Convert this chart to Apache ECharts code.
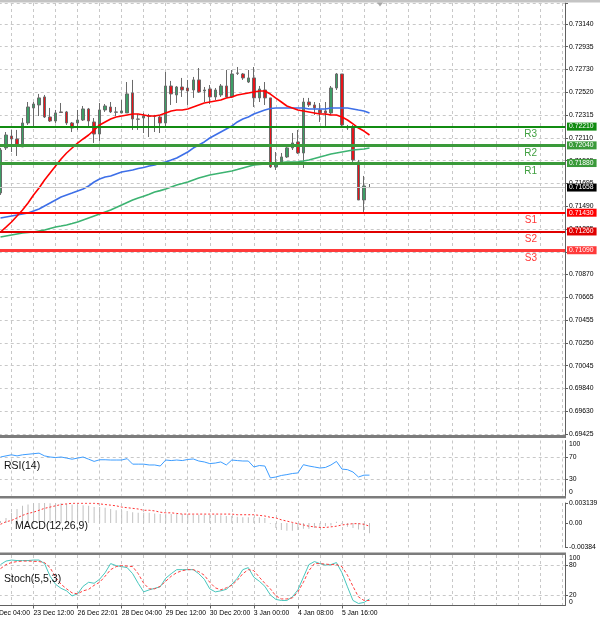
<!DOCTYPE html>
<html><head><meta charset="utf-8">
<script src="https://cdn.jsdelivr.net/npm/echarts@6/dist/echarts.min.js"></script>
<style>html,body{margin:0;padding:0;background:#fff}#c{width:600px;height:621px}</style>
</head><body><div id="c"></div>
<script>
// ---------- data ----------
const timeTicks = ['22 Dec 04:00','23 Dec 12:00','26 Dec 22:01','28 Dec 04:00','29 Dec 12:00','30 Dec 20:00','3 Jan 00:00','4 Jan 08:00','5 Jan 16:00'];
const priceTicks = ['0.69425','0.69630','0.69840','0.70045','0.70250','0.70455','0.70665','0.70870','0.71080','0.71285','0.71490','0.71695','0.71905','0.72110','0.72315','0.72520','0.72730','0.72935','0.73140'];

const open = [0.71609,0.72017,0.72125,0.72098,0.72026,0.72243,0.72379,0.72406,0.72479,0.72297,
0.72261,0.72343,0.72343,0.72243,0.72243,0.72270,0.72370,0.72252,0.72143,0.72361,
0.72388,0.72343,0.72334,0.72334,0.72515,0.72279,0.72288,0.72306,0.72306,0.72297,
0.72243,0.72578,0.72497,0.72569,0.72560,0.72542,0.72633,0.72533,0.72551,0.72479,
0.72497,0.72578,0.72479,0.72696,0.72687,0.72614,0.72651,0.72470,0.72542,0.72470,
0.71844,0.71890,0.71935,0.72017,0.72071,0.71971,0.72433,0.72406,0.72361,0.72352,
0.72334,0.72560,0.72687,0.72207,0.72198,0.71890,0.71545,0.71658];
const close = [0.71998,0.72134,0.72098,0.72035,0.72243,0.72388,0.72415,0.72470,0.72297,0.72261,
0.72334,0.72338,0.72243,0.72198,0.72270,0.72370,0.72261,0.72143,0.72361,0.72397,
0.72343,0.72340,0.72352,0.72506,0.72279,0.72277,0.72306,0.72304,0.72304,0.72243,
0.72578,0.72506,0.72569,0.72542,0.72533,0.72633,0.72524,0.72542,0.72479,0.72542,
0.72578,0.72479,0.72687,0.72693,0.72651,0.72651,0.72470,0.72551,0.72470,0.71844,
0.71881,0.71935,0.72017,0.72062,0.71971,0.72433,0.72406,0.72379,0.72334,0.72334,
0.72560,0.72687,0.72225,0.72198,0.71908,0.71545,0.71672,0.71658];
const low = [0.71591,0.71998,0.71980,0.71944,0.72026,0.72225,0.72198,0.72306,0.72288,0.72252,
0.72243,0.72334,0.72225,0.72161,0.72180,0.72261,0.72207,0.72062,0.72080,0.72343,
0.72334,0.72306,0.72334,0.72334,0.72180,0.72180,0.72152,0.72116,0.72161,0.72152,
0.72198,0.72406,0.72424,0.72479,0.72406,0.72470,0.72515,0.72433,0.72415,0.72451,
0.72479,0.72470,0.72470,0.72678,0.72633,0.72605,0.72388,0.72433,0.72406,0.71835,
0.71817,0.71862,0.71926,0.71998,0.71962,0.71835,0.72388,0.72316,0.72252,0.72216,
0.72316,0.72542,0.72198,0.72180,0.71890,0.71545,0.71437,0.71658];
const high = [0.72017,0.72161,0.72180,0.72180,0.72288,0.72433,0.72433,0.72506,0.72497,0.72379,
0.72361,0.72424,0.72352,0.72252,0.72361,0.72397,0.72379,0.72288,0.72424,0.72415,
0.72433,0.72388,0.72451,0.72614,0.72633,0.72325,0.72334,0.72325,0.72316,0.72316,
0.72705,0.72624,0.72578,0.72651,0.72633,0.72660,0.72741,0.72569,0.72587,0.72560,
0.72596,0.72723,0.72723,0.72750,0.72696,0.72723,0.72750,0.72578,0.72614,0.72470,
0.71980,0.71971,0.72044,0.72152,0.72180,0.72470,0.72470,0.72433,0.72424,0.72433,
0.72578,0.72696,0.72687,0.72225,0.72225,0.71908,0.71763,0.71690];

const maRed = [0.71255,0.71300,0.71346,0.71400,0.71454,0.71518,0.71590,0.71654,0.71726,0.71790,
0.71853,0.71916,0.71971,0.72016,0.72061,0.72098,0.72134,0.72179,0.72225,0.72252,
0.72279,0.72297,0.72306,0.72315,0.72324,0.72324,0.72315,0.72306,0.72306,0.72315,
0.72333,0.72351,0.72360,0.72360,0.72370,0.72388,0.72406,0.72424,0.72433,0.72442,
0.72451,0.72469,0.72478,0.72496,0.72505,0.72514,0.72523,0.72533,0.72533,0.72505,
0.72469,0.72433,0.72397,0.72379,0.72360,0.72351,0.72342,0.72333,0.72324,0.72324,
0.72315,0.72315,0.72297,0.72270,0.72234,0.72197,0.72170,0.72134];
const maBlue = [0.71382,0.71391,0.71400,0.71409,0.71418,0.71427,0.71445,0.71464,0.71491,0.71518,
0.71545,0.71572,0.71590,0.71608,0.71627,0.71645,0.71672,0.71708,0.71735,0.71753,
0.71762,0.71781,0.71799,0.71808,0.71817,0.71830,0.71839,0.71853,0.71862,0.71880,
0.71889,0.71907,0.71926,0.71953,0.71980,0.72016,0.72043,0.72071,0.72107,0.72134,
0.72161,0.72188,0.72215,0.72252,0.72279,0.72297,0.72324,0.72342,0.72360,0.72374,
0.72379,0.72379,0.72379,0.72379,0.72379,0.72379,0.72370,0.72370,0.72370,0.72370,
0.72379,0.72379,0.72379,0.72379,0.72370,0.72360,0.72351,0.72333];
const maGreen = [0.71210,0.71219,0.71228,0.71237,0.71246,0.71251,0.71255,0.71264,0.71273,0.71287,
0.71300,0.71309,0.71319,0.71332,0.71346,0.71364,0.71382,0.71400,0.71418,0.71436,
0.71454,0.71477,0.71499,0.71522,0.71545,0.71563,0.71580,0.71598,0.71617,0.71630,
0.71645,0.71663,0.71681,0.71694,0.71708,0.71726,0.71744,0.71758,0.71771,0.71781,
0.71790,0.71799,0.71808,0.71821,0.71835,0.71849,0.71862,0.71867,0.71871,0.71876,
0.71880,0.71885,0.71889,0.71889,0.71889,0.71898,0.71907,0.71921,0.71935,0.71948,
0.71962,0.71971,0.71980,0.71989,0.71998,0.72003,0.72007,0.72016];

const levelNames = ['R3','R2','R1','S1','S2','S3'];
const levelValues = [0.72210,0.72040,0.71880,0.71430,0.71260,0.71090];
const bidPrice = 0.71658;

const rsi = [70,72,74,72,74,75,76,77,72,70,
69,70,68,66,68,70,66,62,65,65,
64.5,64.5,64.5,67,57,57,57,55.5,55.5,53.6,
64.5,63.5,64.5,63.5,65.5,66.4,62.7,61,58,59,
61,55.5,64.5,63.5,62.7,62.7,51.8,54.5,53.6,32,
33.6,36.4,38,40,41,56,53.6,51.8,50,51,
55.5,62,48,47,42.7,33.6,37,37];
const rsiTicks = [0,30,70,100];

const macdHist = [0.0003,0.0008,0.0016,0.0022,0.0027,0.0029,0.0031,0.00314,0.00314,0.0031,
0.0031,0.0031,0.0030,0.0029,0.0028,0.0028,0.0027,0.0025,0.0025,0.0024,
0.0022,0.0020,0.0020,0.0019,0.0017,0.0016,0.0016,0.0016,0.0015,0.0014,
0.0014,0.0014,0.0014,0.0014,0.0014,0.0013,0.0013,0.0013,0.0013,0.0013,
0.0012,0.0011,0.0011,0.0010,0.0009,0.0009,0.0009,0.0009,0.0008,-0.0001,
-0.0008,-0.0011,-0.0012,-0.0012,-0.0011,-0.0009,-0.0009,-0.0008,-0.0007,-0.0005,
-0.0004,0.0002,-0.0002,-0.0006,-0.0008,-0.0010,-0.0011,-0.0016];
const macdSignal = [-0.0002,0.0002,0.0004,0.0008,0.0012,0.0015,0.0017,0.0020,0.0023,0.0025,
0.0027,0.0029,0.0030,0.0031,0.0031,0.0031,0.0031,0.0031,0.0030,0.0029,
0.0028,0.0027,0.0025,0.0024,0.0023,0.0022,0.0020,0.0020,0.0019,0.0017,
0.0016,0.0016,0.0015,0.0014,0.0014,0.0014,0.0014,0.0014,0.0014,0.0014,
0.0014,0.0014,0.0014,0.0013,0.0013,0.0013,0.0013,0.0012,0.0011,0.0009,
0.0008,0.0005,0.0003,0.0001,-0.0001,-0.0003,-0.0005,-0.0006,-0.0007,-0.0007,
-0.0006,-0.0005,-0.0003,-0.0002,-0.0001,-0.0001,-0.0002,-0.0005];
const macdTickValues = [-0.00384, 0, 0.003139];
const macdTickLabels = ['-0.00384', '0.00', '0.003139'];

const stochMain = [81,88,90,89,89,89,90,90,83,58,
42,34,29,19,23,38,46,44,52,65,
83,79,77,75,63,44,27,31,34,37,
54,63,71,71,71,71,63,52,33,27,
29,32,42,54,71,75,56,48,38,21,
12,10,10,17,31,56,81,87,83,80,
81,85,65,37,10,4,6,13];
const stochSignal = [73,81,85,87,88,88,87.5,87,85,75,
56,42,33,25,23,29,32,40,46,58,
71,77,79,78,77,63,44,33,33,38,
48,58,65,69,71,71,67,60,46,35,
31,35,40,50,63,71,69,56,44,33,
19,13,13,15,27,46,69,83,83,82,
81,81,77,60,38,17,10,10];
const stochEdgeTicks = [0,100];
const stochLevelTicks = [20,80];

// ---------- layout ----------
const N_SLOTS = 105, FIRST = 2;
const slots = Array.from({length: N_SLOTS}, (_, i) => i);
const GL = -13.275, GW = 578.28;
const PRICE_MIN = 0.69425, PRICE_MAX = 0.7333, PRICE_STEP = 0.0020639;
const FONT = 'Liberation Sans, Arial, sans-serif';
const AX = '#606060', GRIDC = '#c8c8c8';

const pair = arr => arr.map((v, k) => [k + FIRST, v]);
const candles = open.map((o, k) => [k + FIRST, o, close[k], low[k], high[k]]);
const tickShow = i => i % 8 === 0 && i / 8 < timeTicks.length;

function xa(gi, show) {
  return {
    type: 'category', gridIndex: gi, data: slots, boundaryGap: true,
    axisLine: {show: show, lineStyle: {color: AX, width: 1}},
    axisTick: {show: show, alignWithLabel: true, length: 3, interval: tickShow, lineStyle: {color: AX}},
    axisLabel: {show: show, interval: tickShow, formatter: (v, i) => timeTicks[i / 8] || '',
      align: 'left', margin: 4, fontSize: 6.8, color: '#000', fontFamily: FONT},
    splitLine: {show: true, interval: 3, alignWithLabel: true, lineStyle: {color: GRIDC, type: [3, 3], width: 1}}
  };
}
const grids = [
  {left: GL, width: GW, top: 3, height: 431},
  {left: GL, width: GW, top: 440.5, height: 55},
  {left: GL, width: GW, top: 503, height: 44.5},
  {left: GL, width: GW, top: 555, height: 50.5}
].map(g => Object.assign(g, {containLabel: false, outerBoundsMode: 'none'}));

const lab = {fontSize: 6.8, color: '#000', fontFamily: FONT, margin: 4, showMinLabel: true, showMaxLabel: true, hideOverlap: false};

const levelColors = ['#118c11','#3a9a3a','#3a9a3a','#ff0000','#e00000','#ff3a3a'];
const levelWidths = [2, 3, 3, 2, 2, 3];
const levelTextColors = ['#3f9f3f','#3f9f3f','#3f9f3f','#ff3a3a','#ff3a3a','#ff3a3a'];
const tagData = [], nameData = [];
levelValues.forEach((v, i) => {
  tagData.push({name: 'lvl' + i, yAxis: v, lineStyle: {color: levelColors[i], width: levelWidths[i], type: 'solid'},
    label: {show: true, position: 'end', formatter: v.toFixed(5), backgroundColor: levelColors[i],
      color: '#fff', fontSize: 6.8, fontFamily: FONT, padding: [1, 3, 0, 2], distance: 2}});
  nameData.push({name: 'txt' + i, yAxis: v, lineStyle: {color: 'rgba(0,0,0,0)', width: 1, type: 'solid'},
    label: {show: true, position: 'insideEndBottom', formatter: levelNames[i], color: levelTextColors[i],
      fontSize: 10, fontFamily: FONT, distance: 3, padding: [0, 25, 0, 0]}});
});
tagData.push({name: 'bid', yAxis: bidPrice, lineStyle: {color: '#c8c8c8', width: 1, type: 'solid'},
  label: {show: true, position: 'end', formatter: bidPrice.toFixed(5), backgroundColor: '#000',
    color: '#fff', fontSize: 6.8, fontFamily: FONT, padding: [1, 3, 0, 2], distance: 2}});

const chart = echarts.init(document.getElementById('c'), null, {renderer: 'canvas'});
chart.setOption({
  animation: false,
  backgroundColor: '#fff',
  grid: grids,
  xAxis: [xa(0, false), xa(1, false), xa(2, false), xa(3, true)],
  yAxis: [
    {type: 'value', gridIndex: 0, position: 'right', min: PRICE_MIN, max: PRICE_MAX, interval: PRICE_STEP,
      axisLine: {show: true, lineStyle: {color: AX}}, axisTick: {show: true, length: 3, lineStyle: {color: AX}},
      axisLabel: Object.assign({}, lab, {formatter: v => priceTicks[Math.round((v - PRICE_MIN) / PRICE_STEP)] || ''}),
      splitLine: {show: true, lineStyle: {color: GRIDC, type: [3, 3]}}},
    {type: 'value', gridIndex: 1, position: 'right', min: 0, max: 100,
      axisLine: {show: true, lineStyle: {color: AX}},
      axisTick: {show: true, length: 3, customValues: [30, 70], lineStyle: {color: AX}},
      axisLabel: Object.assign({}, lab, {customValues: rsiTicks, verticalAlignMinLabel: 'bottom', verticalAlignMaxLabel: 'top'}),
      splitLine: {show: true, lineStyle: {color: GRIDC, type: [3, 3]}}},
    {type: 'value', gridIndex: 2, position: 'right', min: macdTickValues[0], max: macdTickValues[2],
      axisLine: {show: true, lineStyle: {color: AX}},
      axisTick: {show: true, length: 3, customValues: macdTickValues, lineStyle: {color: AX}},
      axisLabel: Object.assign({}, lab, {customValues: macdTickValues,
        formatter: v => macdTickLabels[macdTickValues.indexOf(v)] || ''}),
      splitLine: {show: false}},
    {type: 'value', gridIndex: 3, position: 'right', min: 0, max: 100,
      axisLine: {show: true, lineStyle: {color: AX}},
      axisTick: {show: true, length: 3, customValues: stochLevelTicks, lineStyle: {color: AX}},
      axisLabel: Object.assign({}, lab, {customValues: stochEdgeTicks, verticalAlignMinLabel: 'bottom', verticalAlignMaxLabel: 'top'}),
      splitLine: {show: true, lineStyle: {color: GRIDC, type: [3, 3]}}},
    {type: 'value', gridIndex: 3, position: 'right', min: 0, max: 100,
      axisLine: {show: false}, axisTick: {show: false}, splitLine: {show: false},
      axisLabel: Object.assign({}, lab, {customValues: stochLevelTicks})}
  ],
  series: [
    {type: 'candlestick', xAxisIndex: 0, yAxisIndex: 0, data: candles, encode: {x: 0, y: [1, 2, 3, 4]},
      barWidth: 3, z: 2, clip: false,
      itemStyle: {color: '#3d9e66', color0: '#e8141a', borderColor: '#6a6a6a', borderColor0: '#6a6a6a', borderWidth: 1},
      markLine: {silent: true, precision: 6, symbol: ['none', 'none'], animation: false, z: 5, data: tagData}},
    {type: 'line', xAxisIndex: 0, yAxisIndex: 0, data: pair(maGreen), showSymbol: false, z: 3, clip: false,
      lineStyle: {color: '#3cb371', width: 1.6},
      markLine: {silent: true, precision: 6, symbol: ['none', 'none'], animation: false, z: 5, data: nameData}},
    {type: 'line', xAxisIndex: 0, yAxisIndex: 0, data: pair(maBlue), showSymbol: false, z: 3,
      lineStyle: {color: '#3d6fe8', width: 1.6}},
    {type: 'line', xAxisIndex: 0, yAxisIndex: 0, data: pair(maRed), showSymbol: false, z: 3,
      lineStyle: {color: '#ff0000', width: 1.6}},
    {type: 'line', xAxisIndex: 1, yAxisIndex: 1, data: pair(rsi), showSymbol: false,
      lineStyle: {color: '#3d9dff', width: 1}},
    {type: 'bar', xAxisIndex: 2, yAxisIndex: 2, data: pair(macdHist), barWidth: 1,
      itemStyle: {color: '#c0c0c0'}},
    {type: 'line', xAxisIndex: 2, yAxisIndex: 2, data: pair(macdSignal), showSymbol: false,
      lineStyle: {color: '#ff3333', width: 1, type: [2, 2]}},
    {type: 'line', xAxisIndex: 3, yAxisIndex: 3, data: pair(stochMain), showSymbol: false,
      lineStyle: {color: '#48c6bd', width: 1}},
    {type: 'line', xAxisIndex: 3, yAxisIndex: 3, data: pair(stochSignal), showSymbol: false,
      lineStyle: {color: '#ff4040', width: 1, type: [3, 2]}}
  ],
  graphic: [
    {type: 'rect', shape: {x: 0, y: 0, width: 600, height: 2.5}, style: {fill: '#c4c4c4'}, z: 10},
    {type: 'rect', shape: {x: 0, y: 435, width: 566, height: 3}, style: {fill: '#7c7c7c'}, z: 10},
    {type: 'rect', shape: {x: 0, y: 496, width: 566, height: 2.5}, style: {fill: '#7c7c7c'}, z: 10},
    {type: 'rect', shape: {x: 0, y: 552.5, width: 566, height: 2.5}, style: {fill: '#7c7c7c'}, z: 10},
    {type: 'polygon', shape: {points: [[377, 2.5], [383, 2.5], [380, 6.5]]}, style: {fill: '#a8a8a8'}, z: 10},
    {type: 'text', x: 4, y: 466.5, style: {text: 'RSI(14)', fill: '#111', font: '10.5px ' + FONT, textVerticalAlign: 'middle'}, z: 10},
    {type: 'text', x: 15, y: 526, style: {text: 'MACD(12,26,9)', fill: '#111', font: '10.5px ' + FONT, textVerticalAlign: 'middle'}, z: 10},
    {type: 'text', x: 4, y: 579, style: {text: 'Stoch(5,5,3)', fill: '#111', font: '10.5px ' + FONT, textVerticalAlign: 'middle'}, z: 10}
  ]
});
</script></body></html>
